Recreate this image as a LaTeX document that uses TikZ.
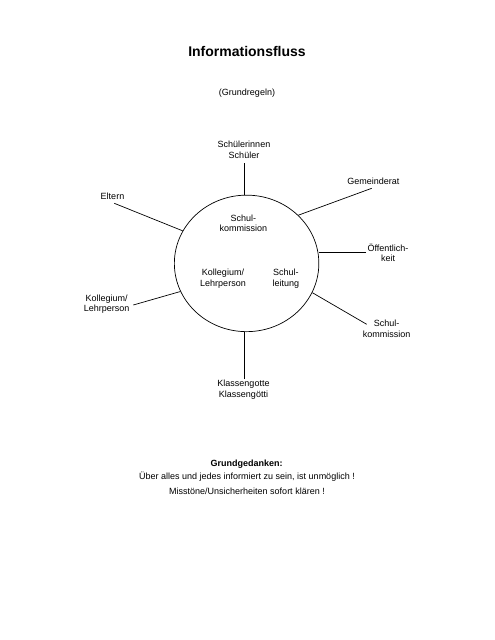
\documentclass[tikz,border=0pt]{standalone}
\usepackage{fontspec}
\setmainfont{Liberation Sans}
\usetikzlibrary{shapes.geometric}
\begin{document}
\begin{tikzpicture}[x=1pt,y=-1pt,
  lbl/.style={align=center,inner sep=0pt,font=\fontsize{9}{10.5}\selectfont},
  spoke/.style={line width=0.7pt,black},
  ring/.style={ellipse,draw,line width=0.7pt,minimum width=144.5pt,minimum height=136.5pt,inner sep=0pt}]
\path[use as bounding box,fill=white] (0,0) rectangle (495,640);
\node[lbl,font=\bfseries\fontsize{14}{16}\selectfont,anchor=base] (title) at (247,56.7) {Informationsfluss};
\node[lbl] (regeln) at (247,93.3) {(Grundregeln)};
\node[ring] (c) at (246.6,263.4) {};
\node[lbl] (ik) at (243.3,223.3) {Schul-\\kommission};
\node[lbl] (il) at (223,278.5) {Kollegium/\\Lehrperson};
\node[lbl] (is) at (285.8,278.5) {Schul-\\leitung};
\node[lbl] (sch) at (244,150) {Schülerinnen\\Schüler};
\node[lbl] (elt) at (112.5,196) {Eltern};
\node[lbl] (kol) at (106.7,304.3) {Kollegium/\\Lehrperson};
\node[lbl] (gem) at (373.3,181.7) {Gemeinderat};
\node[lbl] (oef) at (388,253) {Öffentlich-\\keit};
\node[lbl] (sko) at (386.7,329) {Schul-\\kommission};
\node[lbl] (kla) at (243.5,389.5) {Klassengotte\\Klassengötti};
\coordinate (pe) at (114.3,203.3);
\coordinate (pk) at (133.3,305);
\coordinate (pg) at (371.7,188.3);
\coordinate (po) at (366,252.7);
\coordinate (ps) at (366.7,324.3);
\coordinate (pt) at (244,163);
\coordinate (pb) at (244,379);
\draw[spoke] (pt) -- (pt |- c.north);
\draw[spoke] (pb) -- (pb |- c.south);
\draw[spoke] (pe) -- (c.153);
\draw[spoke] (pk) -- (c.203.2);
\draw[spoke] (pg) -- (c.43.1);
\draw[spoke] (po) -- (po -| c.east);
\draw[spoke] (ps) -- (c.336.5);
\node[lbl,font=\bfseries\fontsize{9}{10.5}\selectfont] (gg) at (246.7,464) {Grundgedanken:};
\node[lbl] (ub) at (247,477) {Über alles und jedes informiert zu sein, ist unmöglich !};
\node[lbl] (mi) at (247,491) {Misstöne/Unsicherheiten sofort klären !};
\end{tikzpicture}
\end{document}
